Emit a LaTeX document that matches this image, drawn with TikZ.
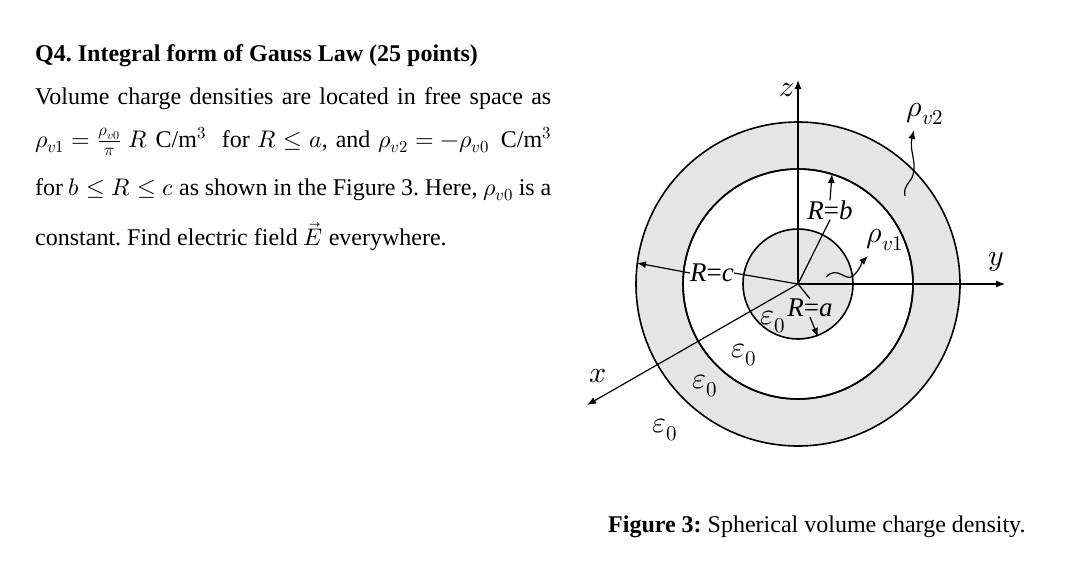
\documentclass[tikz,border=0pt]{standalone}
\usepackage{unicode-math}
\setmainfont{Liberation Serif}
\setmathfont{Latin Modern Math}
\usetikzlibrary{arrows.meta}
\frenchspacing
\begin{document}
\begin{tikzpicture}[x=1pt,y=-1pt,
  txt/.style={anchor=base west,inner sep=0pt,font=\fontsize{24}{26}\selectfont},
  lab/.style={inner sep=1pt,font=\fontsize{27}{28}\selectfont},
  ln/.style={line width=1.2pt},
  arr/.style={line width=1.2pt,-{Latex[length=9pt,width=7pt]}}]
\useasboundingbox[fill=white] (0,0) rectangle (1091,578);
\node[txt] (t1) at (35,62) {\textbf{Q4. Integral form of Gauss Law (25 points)}};
\node[txt] (t2) at (35,104) {\hbox to 516pt{Volume charge densities are located in free space as}};
\node[txt] (t3) at (35,147) {\hbox to 516pt{$\rho_{v1}\!=\!\frac{\rho_{v0}}{\pi}$ $R$ C/m$^3$\ \ for $R\!\le\! a$, and $\rho_{v2}\!=\!-\rho_{v0}$\ \,C/m$^3$}};
\node[txt] (t4) at (35,195) {\hbox to 516pt{for $b\le R\le c$ as shown in the Figure 3. Here, $\rho_{v0}$ is a}};
\node[txt] (t5) at (35,245) {constant. Find electric field $\vec{E}$ everywhere.};
% figure
\coordinate (O) at (798,284);
\fill[gray!20,draw=black,line width=1.6pt,even odd rule] (O) circle (162) (O) circle (115);
\draw[line width=1.6pt] (O) circle (115);
\filldraw[fill=gray!20,draw=black,line width=1.6pt] (O) circle (55);
\coordinate (zt) at (798,80);
\coordinate (yt) at (1005,284);
\coordinate (xt) at (587,405);
\draw[arr] (O) -- (zt);
\draw[arr] (O) -- (yt);
\draw[arr] (O) -- (xt);
\node[lab,font=\fontsize{30}{30}\selectfont] (zl) at (787,90) {$z$};
\node[lab,font=\fontsize{30}{30}\selectfont] (yl) at (996,262) {$y$};
\node[lab,font=\fontsize{30}{30}\selectfont] (xl) at (598,376) {$x$};
% R=c
\node[lab,fill=white,inner sep=0pt] (Rc) at (712,273) {\textit{R}=\textit{c}};
\draw[ln] (O) -- (Rc.east);
\coordinate (cpt) at (637,263);
\draw[arr] (Rc.west) -- (cpt);
% R=b
\node[lab,inner sep=0pt] (Rb) at (830,210) {\textit{R}=\textit{b}};
\draw[ln] (O) -- (Rb.south);
\coordinate (bpt) at (832,174);
\draw[arr] (Rb.north) -- (bpt);
% R=a
\node[lab,inner sep=0pt] (Ra) at (810,308) {\textit{R}=\textit{a}};
\draw[ln] (O) -- (Ra.north);
\coordinate (apt) at (818,337);
\draw[arr] (Ra.south) -- (apt);
% rho labels
\node[lab,font=\fontsize{30}{30}\selectfont] (r1) at (885,240) {$\rho_{v1}$};
\draw[arr] (826,277) .. controls (838,265) and (845,282) .. (853,276) .. controls (860,270) and (862,262) .. (868,256);
\node[lab,font=\fontsize{30}{30}\selectfont] (r2) at (925,114) {$\rho_{v2}$};
\draw[arr] (905,196) .. controls (903,185) and (910,184) .. (913,175) .. controls (917,162) and (909,150) .. (914,130);
% epsilons
\node[lab,font=\fontsize{30}{30}\selectfont] (e1) at (773,322) {$\varepsilon_0$};
\node[lab,font=\fontsize{30}{30}\selectfont] (e2) at (744,355) {$\varepsilon_0$};
\node[lab,font=\fontsize{30}{30}\selectfont] (e3) at (705,386) {$\varepsilon_0$};
\node[lab,font=\fontsize{30}{30}\selectfont] (e4) at (665,430) {$\varepsilon_0$};
\node[txt] (cap) at (608,532) {\textbf{Figure 3:} Spherical volume charge density.};
\end{tikzpicture}
\end{document}
